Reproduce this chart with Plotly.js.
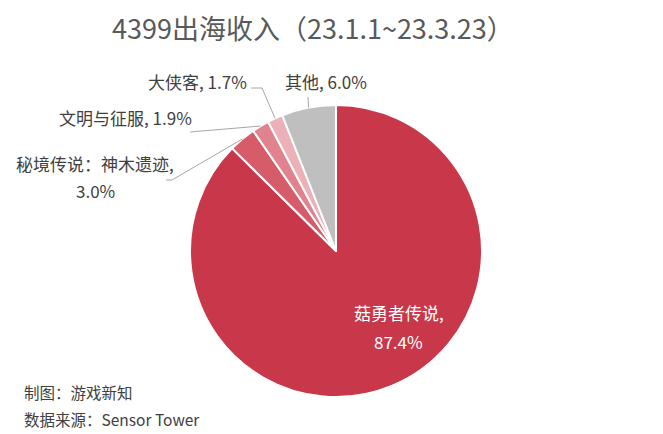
<!DOCTYPE html>
<html>
<head>
<meta charset="utf-8">
<script src="https://cdn.plot.ly/plotly-3.0.1.min.js"></script>
<style>
  html, body { margin: 0; padding: 0; background: #fff; }
  #chart { width: 663px; height: 434px; }
</style>
</head>
<body>
<div id="chart"></div>
<script>
// data
const games = ['菇勇者传说', '秘境传说：神木遗迹', '文明与征服', '大侠客', '其他'];
const share = [87.4, 3.0, 1.9, 1.7, 6.0];
const sliceColors = ['#C8374A', '#D65C6A', '#E0838E', '#EBB0B8', '#BFBFBF'];

const W = 663, H = 434;
const cx = 336, cy = 251, R = 146;   // pie centre / radius in px
const font = '"Noto Sans CJK SC", "Microsoft YaHei", sans-serif';

// px -> paper
const px = x => x / W;
const py = y => 1 - y / H;

// point on the rim at the middle of slice i (clockwise from 12 o'clock)
const total = share.reduce((a, b) => a + b, 0);
function rimPoint(i) {
    let before = 0;
    for (let k = 0; k < i; k++) before += share[k];
    const ang = (before + share[i] / 2) / total * 2 * Math.PI;
    return [cx + R * Math.sin(ang), cy - R * Math.cos(ang)];
}

function leader(i, pts) {
    const p0 = rimPoint(i);
    const all = [p0].concat(pts);
    const d = all.map((p, k) => (k ? 'L' : 'M') + px(p[0]) + ',' + py(p[1])).join(' ');
    return {type: 'path', xref: 'paper', yref: 'paper', path: d,
            line: {color: '#A6A6A6', width: 1}};
}

function label(text, x, y, opts) {
    return Object.assign({
        text: text, xref: 'paper', yref: 'paper', x: px(x), y: py(y),
        xanchor: 'center', yanchor: 'middle', showarrow: false,
        font: {family: font, size: 17, color: '#404040'}
    }, opts || {});
}

const pct = i => share[i].toFixed(1) + '%';
const white = {font: {family: font, size: 17, color: '#ffffff'}};
const foot = {xanchor: 'left', font: {family: font, size: 15.5, color: '#404040'}};

const trace = {
    type: 'pie',
    labels: games,
    values: share,
    sort: false,
    direction: 'clockwise',
    rotation: 0,
    textinfo: 'none',
    hoverinfo: 'label+percent',
    marker: {colors: sliceColors, line: {color: '#ffffff', width: 2}},
    domain: {x: [px(cx - R), px(cx + R)], y: [py(cy + R), py(cy - R)]}
};

const layout = {
    width: W, height: H,
    margin: {l: 0, r: 0, t: 0, b: 0},
    showlegend: false,
    paper_bgcolor: '#ffffff',
    title: {text: ''},
    shapes: [
        leader(1, [[172, 180], [166, 180]]),
        leader(2, [[190, 132]]),
        leader(3, [[262, 88], [251, 88]]),
        leader(4, [[308, 97]])
    ],
    annotations: [
        label('4399出海收入（23.1.1~23.3.23）', 313, 27,
              {font: {family: font, size: 27, color: '#595959'}}),
        label(games[0] + ',', 399, 312, white),
        label(pct(0), 398, 341, white),
        label(games[1] + ',', 95, 163),
        label(pct(1), 95, 191),
        label(games[2] + ', ' + pct(2), 125, 117),
        label(games[3] + ', ' + pct(3), 197, 82),
        label(games[4] + ', ' + pct(4), 326, 81),
        label('制图：游戏新知', 22, 392, foot),
        label('数据来源：Sensor Tower', 22, 419, foot)
    ]
};

Plotly.newPlot('chart', [trace], layout, {displayModeBar: false, staticPlot: true});
</script>
</body>
</html>
